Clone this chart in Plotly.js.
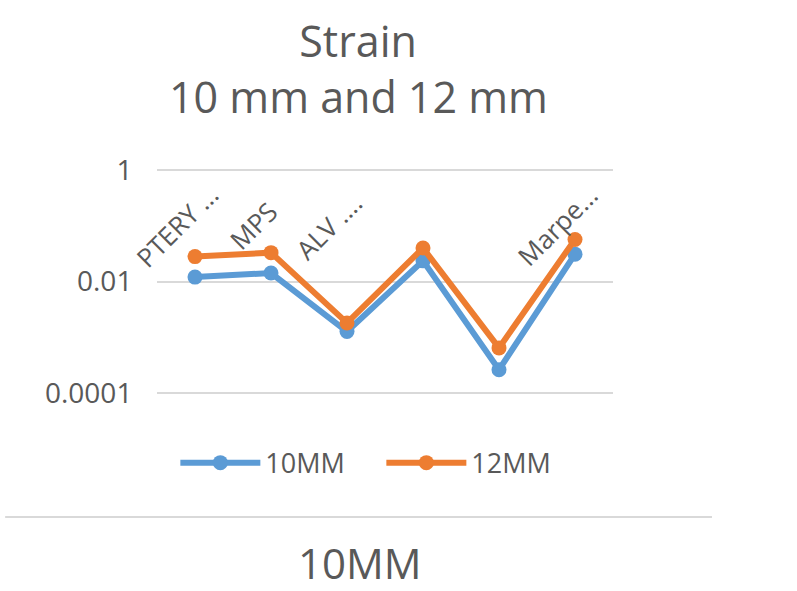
<!DOCTYPE html>
<html>
<head>
<meta charset="utf-8">
<script src="https://cdn.plot.ly/plotly-3.0.1.min.js"></script>
<style>html,body{margin:0;padding:0;background:#fff;}#chart{width:797px;height:591px;}</style>
</head>
<body>
<div id="chart"></div>
<script>
// ---- data ----
var categories = ["PTERY ...", "MPS", "ALV ....", "", "", "Marpe..."];
var series10 = [0.012, 0.0142, 0.00126, 0.0235, 0.00026, 0.031];
var series12 = [0.028, 0.033, 0.0018, 0.040, 0.00064, 0.057];
var seriesNames = ["10MM", "12MM"];
var yTickVals = [1, 0.01, 0.0001];
var yTickText = ["1", "0.01", "0.0001"];
var chartTitle = "Strain";
var chartSubtitle = "10 mm and 12 mm";
var nextChartTitle = "10MM";

var xIdx = categories.map(function (c, i) { return i; });
var textColor = "#595959";
var font = "Open Sans, sans-serif";

var traces = [
  {x: xIdx, y: series10, name: seriesNames[0], type: "scatter", mode: "lines+markers",
   line: {color: "#5B9BD5", width: 6}, marker: {color: "#5B9BD5", size: 15}},
  {x: xIdx, y: series12, name: seriesNames[1], type: "scatter", mode: "lines+markers",
   line: {color: "#ED7D31", width: 6}, marker: {color: "#ED7D31", size: 15}}
];

var annotations = categories.map(function (c, i) {
  return {x: i, xref: "x", y: 0.744, yref: "paper", text: c, showarrow: false,
          textangle: -45, xanchor: "center", yanchor: "middle", xshift: -18,
          font: {family: font, size: 26, color: textColor}};
});
annotations.push({x: 0.441, xref: "paper", y: 1.313, yref: "paper", text: chartSubtitle,
  showarrow: false, xanchor: "center", yanchor: "middle",
  font: {family: font, size: 43, color: textColor}});
annotations.push({x: 0.445, xref: "paper", y: -0.736, yref: "paper", text: nextChartTitle,
  showarrow: false, xanchor: "center", yanchor: "middle",
  font: {family: font, size: 42, color: textColor}});

var layout = {
  width: 797, height: 591,
  margin: {l: 157, r: 184, t: 168, b: 196, pad: 0},
  paper_bgcolor: "#fff", plot_bgcolor: "#fff",
  title: {text: chartTitle, x: 0.441, xref: "paper", xanchor: "center",
          y: 0.929, yref: "container", yanchor: "middle",
          font: {family: font, size: 43, color: textColor}},
  showlegend: true,
  legend: {orientation: "h", x: 0.492, xanchor: "center", y: -0.300, yanchor: "middle",
           font: {family: font, size: 27, color: textColor}, itemwidth: 80,
           entrywidth: 111, bgcolor: "rgba(0,0,0,0)"},
  xaxis: {range: [-0.5, 5.5], showticklabels: false, showgrid: false, zeroline: false,
          showline: false, ticks: "", fixedrange: true},
  yaxis: {type: "log", range: [-4.04, 0.04], tickvals: yTickVals, ticktext: yTickText,
          showgrid: true, gridcolor: "#d9d9d9", gridwidth: 2, zeroline: false, showline: false,
          ticks: "outside", ticklen: 18, tickcolor: "rgba(0,0,0,0)",
          tickfont: {family: font, size: 28, color: textColor}, fixedrange: true},
  shapes: [{type: "line", xref: "paper", yref: "paper", x0: -0.333, x1: 1.217,
            y0: -0.537, y1: -0.537, line: {color: "#d9d9d9", width: 2}}],
  annotations: annotations
};

Plotly.newPlot("chart", traces, layout, {displayModeBar: false, staticPlot: true});
</script>
</body>
</html>
